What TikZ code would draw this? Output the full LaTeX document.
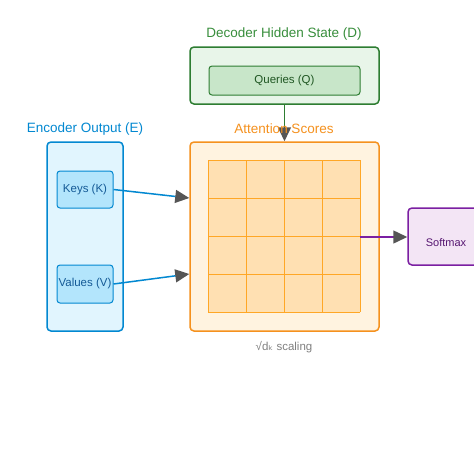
\documentclass[tikz,border=0pt]{standalone}
\usepackage{fontspec}
\setmainfont{Liberation Sans}
\newfontfamily\symfont{DejaVu Sans}
\usetikzlibrary{arrows.meta}
\definecolor{grn}{RGB}{46,125,50}
\definecolor{grntxt}{RGB}{56,142,60}
\definecolor{grnfill}{RGB}{232,245,233}
\definecolor{grnin}{RGB}{200,230,201}
\definecolor{org}{RGB}{245,145,30}
\definecolor{orggrid}{RGB}{255,167,38}
\definecolor{orgfill}{RGB}{255,243,224}
\definecolor{orgin}{RGB}{255,224,178}
\definecolor{blu}{RGB}{2,136,209}
\definecolor{blufill}{RGB}{225,245,254}
\definecolor{bluin}{RGB}{179,229,252}
\definecolor{blutxt}{RGB}{20,90,150}
\definecolor{pur}{RGB}{123,31,162}
\definecolor{purfill}{RGB}{243,229,245}
\definecolor{headgray}{RGB}{85,85,85}
\tikzset{
  box/.style={draw, line width=1.5pt, rounded corners=4pt, inner sep=0pt},
  inbox/.style={draw, line width=1pt, rounded corners=3pt, inner sep=0pt},
  conn/.style={line width=1.5pt, -{Triangle[length=14pt,width=13pt,color=headgray]}},
  ttl/.style={font=\fontsize{13.5}{15}\selectfont},
  lbl/.style={font=\fontsize{11.5}{13}\selectfont}
}
\begin{document}
\begin{tikzpicture}[x=1pt,y=-1pt]
\useasboundingbox (0,0) rectangle (474,474);
\fill[white] (0,0) rectangle (474,474);
% Decoder
\node[ttl, text=grntxt] (dtitle) at (284,34) {Decoder Hidden State (D)};
\node[box, draw=grn, fill=grnfill, minimum width=189pt, minimum height=57pt] (dec) at (284.5,75.5) {};
\node[inbox, draw=grn, fill=grnin, minimum width=151pt, minimum height=29pt, lbl, text=grn!70!black] (q) at (284.5,80.5) {Queries (Q)};
% Attention
\node[box, draw=org, fill=orgfill, minimum width=189pt, minimum height=189pt] (att) at (284.5,236.5) {};
\fill[orgin] (208,160) rectangle (360,312);
\foreach \i in {0,1,2,3,4} {
  \draw[orggrid, line width=1pt] (208+38*\i,160) -- (208+38*\i,312);
  \draw[orggrid, line width=1pt] (208,160+38*\i) -- (360,160+38*\i);
}
\coordinate (gridR) at (360,237);
% Encoder
\node[ttl, text=blu] (etitle) at (85,129) {Encoder Output (E)};
\node[box, draw=blu, fill=blufill, minimum width=76pt, minimum height=189pt] (enc) at (85,236.5) {};
\node[inbox, draw=blu, fill=bluin, minimum width=56pt, minimum height=37pt, lbl, text=blutxt] (k) at (85,189.5) {Keys (K)};
\node[inbox, draw=blu, fill=bluin, minimum width=56pt, minimum height=38pt, lbl, text=blutxt] (v) at (85,284) {Values (V)};
% Softmax
\node[box, draw=pur, fill=purfill, minimum width=78pt, minimum height=57pt] (soft) at (447,236.5) {};
\node[text=pur!70!black, font=\fontsize{11}{12}\selectfont] (softt) at (446,243) {Softmax};
% labels on top of attention
\draw[conn, grn] (dec.south) -- (att.north);
\node[ttl, text=org] (atitle) at (284,129) {Attention Scores};
\node[lbl, text=gray] (scal) at (284,347) {√d{\symfont ₖ} scaling};
% connectors
\draw[conn, blu] (k.east) -- (att.west |- 0,198);
\draw[conn, blu] (v.east) -- (att.west |- 0,274);
\draw[conn, pur] (gridR) -- (soft.west |- gridR);
\end{tikzpicture}
\end{document}
